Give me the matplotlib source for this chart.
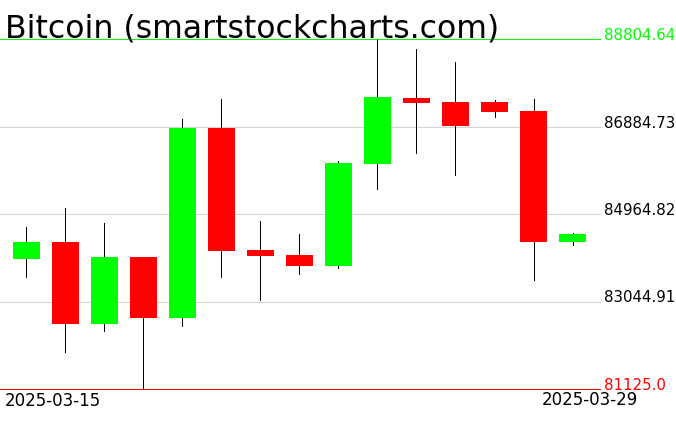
import matplotlib
matplotlib.use("Agg")
import matplotlib.pyplot as plt
import numpy as np
import pandas as pd

dates = pd.date_range("2025-03-15", "2025-03-29").strftime("%Y-%m-%d").tolist()
opens = [83977, 84350, 82558, 84021, 82689, 86858, 84175, 84065, 83824, 86070, 87510, 87422, 87422, 87225, 84350]
highs = [84680, 85096, 84767, 84030, 87049, 87488, 84811, 84526, 86121, 88804.64, 88585, 88300, 87466, 87488, 84548]
lows = [83582, 81937, 82404, 81125.0, 82514, 83582, 83084, 83648, 83780, 85513, 86303, 85827, 87100, 83523, 84285]
closes = [84350, 82558, 84021, 82689, 86858, 84160, 84043, 83824, 86084, 87532, 87400, 86896, 87203, 84350, 84532]
title = "Bitcoin (smartstockcharts.com)"

W, H = 676, 431
fig = plt.figure(figsize=(W / 100, H / 100), dpi=100)
fig.patch.set_facecolor("white")
ax = fig.add_axes([0, 41 / H, 600 / W, 350 / H])
ax.set_facecolor("white")
for s in ax.spines.values():
    s.set_visible(False)
ax.set_xticks([])
ax.set_yticks([])

lo, hi = min(lows), max(highs)
ax.set_ylim(lo, hi)
ax.set_xlim(-0.679, 14.705)

levels = np.linspace(lo, hi, 5)
for i, v in enumerate(levels):
    if i == 0:
        col, tcol = "#ff0000", "#ff0000"
    elif i == len(levels) - 1:
        col, tcol = "#00ff00", "#00ff00"
    else:
        col, tcol = "#d3d3d3", "black"
    ax.axhline(v, color=col, lw=0.72, zorder=1, clip_on=False, antialiased=False)
    ax.text(1.0065, v, str(round(float(v), 2)), transform=ax.get_yaxis_transform(),
            color=tcol, fontsize=10.8, va="baseline", ha="left", clip_on=False)

x = np.arange(len(dates))
o = np.array(opens); c = np.array(closes)
colors = ["#00ff00" if cc >= oo else "#ff0000" for oo, cc in zip(o, c)]
ax.vlines(x, lows, highs, color="black", lw=0.72, zorder=2, clip_on=False, antialiased=False)
ax.bar(x, np.abs(c - o), bottom=np.minimum(o, c), width=0.69, color=colors,
       zorder=3, clip_on=False, antialiased=False, linewidth=0)

fig.text(5 / W, 1 - 38 / H, title, fontsize=22.7, color="black", ha="left", va="baseline")
fig.text(5 / W, 1 - 406 / H, dates[0], fontsize=12, color="black", ha="left", va="baseline")
fig.text(542 / W, 1 - 405 / H, dates[-1], fontsize=12, color="black", ha="left", va="baseline")

fig.savefig("out.png", dpi=100, facecolor="white")
